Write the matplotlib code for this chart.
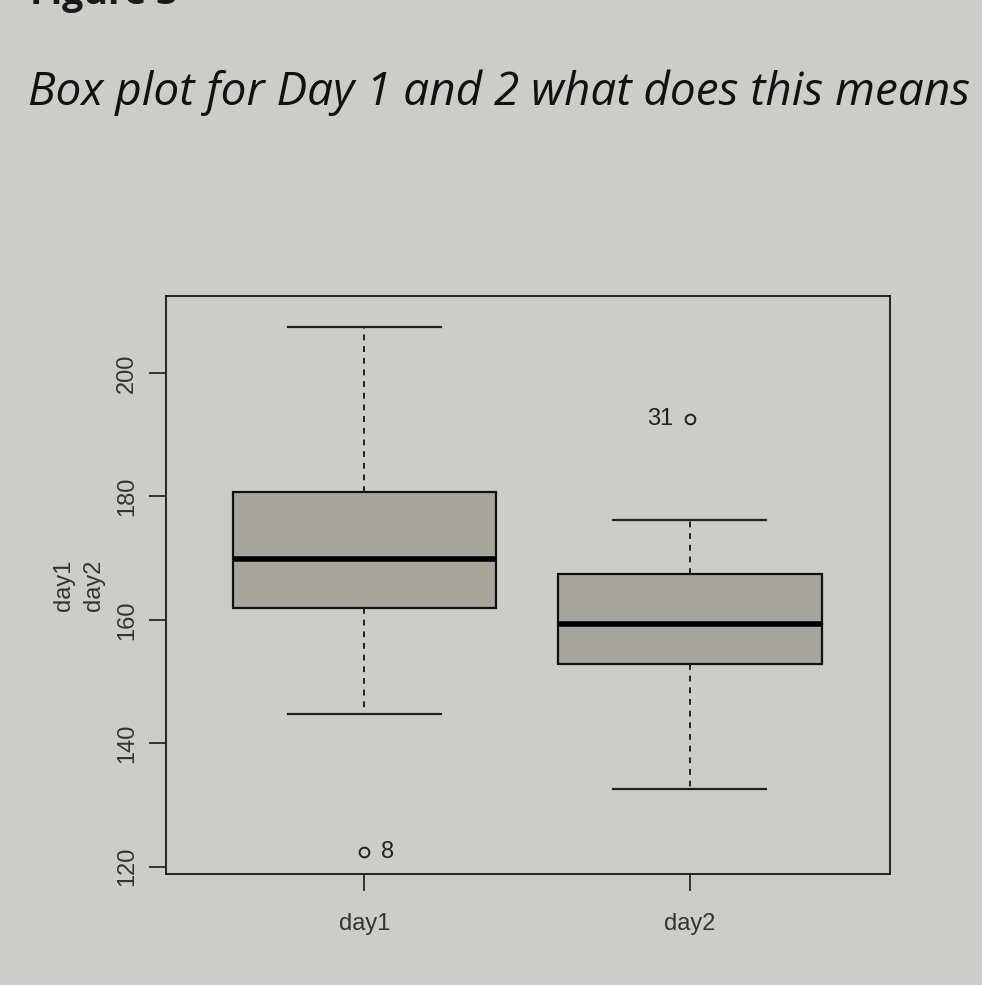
import matplotlib
matplotlib.use("Agg")
import matplotlib.pyplot as plt

# ---- data ----
categories = ["day1", "day2"]
whislo = [144.8, 132.6]
q1 = [162.0, 152.9]
med = [169.8, 159.4]
q3 = [180.8, 167.4]
whishi = [207.4, 176.2]
outliers = [[122.3], [192.6]]
outlier_ids = [["8"], ["31"]]
yticks = [120, 140, 160, 180, 200]

title_text = "Box plot for Day 1 and 2 what does this means"
heading_text = "Figure 3"

BG = "#cdcdc7"
BOX = "#a8a69c"

fig = plt.figure(figsize=(9.82, 9.85), dpi=100, facecolor=BG)

fig.text(30 / 982, 1 - 4 / 985, heading_text, fontsize=27, fontweight="bold",
         family="Open Sans", ha="left", va="baseline", color="#1a1a1a")
fig.text(28 / 982, 1 - 105 / 985, title_text, fontsize=33, style="italic",
         family="Open Sans", ha="left", va="baseline", color="#111111")

ax = fig.add_axes([166 / 982, 1 - 874 / 985, (890 - 166) / 982, (874 - 296) / 985])
ax.set_facecolor(BG)

stats = []
for i, c in enumerate(categories):
    stats.append(dict(label=c, whislo=whislo[i], q1=q1[i], med=med[i],
                      q3=q3[i], whishi=whishi[i], fliers=outliers[i]))

pos = [1, 2]
ax.bxp(stats, positions=pos, widths=0.81, patch_artist=True,
       boxprops=dict(facecolor=BOX, edgecolor="#111111", linewidth=1.6),
       medianprops=dict(color="#000000", linewidth=4),
       whiskerprops=dict(color="#222222", linewidth=1.4, linestyle=(0, (3, 3))),
       capprops=dict(color="#222222", linewidth=1.6),
       capwidths=0.47,
       flierprops=dict(marker="o", markersize=7, markerfacecolor="none",
                       markeredgecolor="#222222", markeredgewidth=1.4))

# outlier id labels
for i in range(len(categories)):
    for v, lab in zip(outliers[i], outlier_ids[i]):
        if i == 0:
            ax.annotate(lab, (pos[i], v), xytext=(12, 0), textcoords="offset points",
                        ha="left", va="center", fontsize=17, family="Liberation Sans",
                        color="#222222")
        else:
            ax.annotate(lab, (pos[i], v), xytext=(-12, 0), textcoords="offset points",
                        ha="right", va="center", fontsize=17, family="Liberation Sans",
                        color="#222222")

ax.set_xlim(0.39, 2.615)
ax.set_ylim(118.8, 212.5)
ax.set_yticks(yticks)
ax.set_yticklabels([str(t) for t in yticks], rotation=90, va="center",
                   fontsize=17, family="Liberation Sans", color="#333333")
ax.set_xticks(pos)
ax.set_xticklabels(categories, fontsize=17, family="Liberation Sans", color="#333333")
ax.tick_params(axis="y", length=12, width=1.4, color="#333333", pad=8)
ax.tick_params(axis="x", length=12, width=1.4, color="#333333", pad=16)
for s in ax.spines.values():
    s.set_linewidth(1.4)
    s.set_color("#222222")

ax.set_ylabel("day1\nday2", fontsize=17, family="Liberation Sans", color="#333333",
              labelpad=8, linespacing=1.45)

fig.savefig("out.png", dpi=100, facecolor=BG)
